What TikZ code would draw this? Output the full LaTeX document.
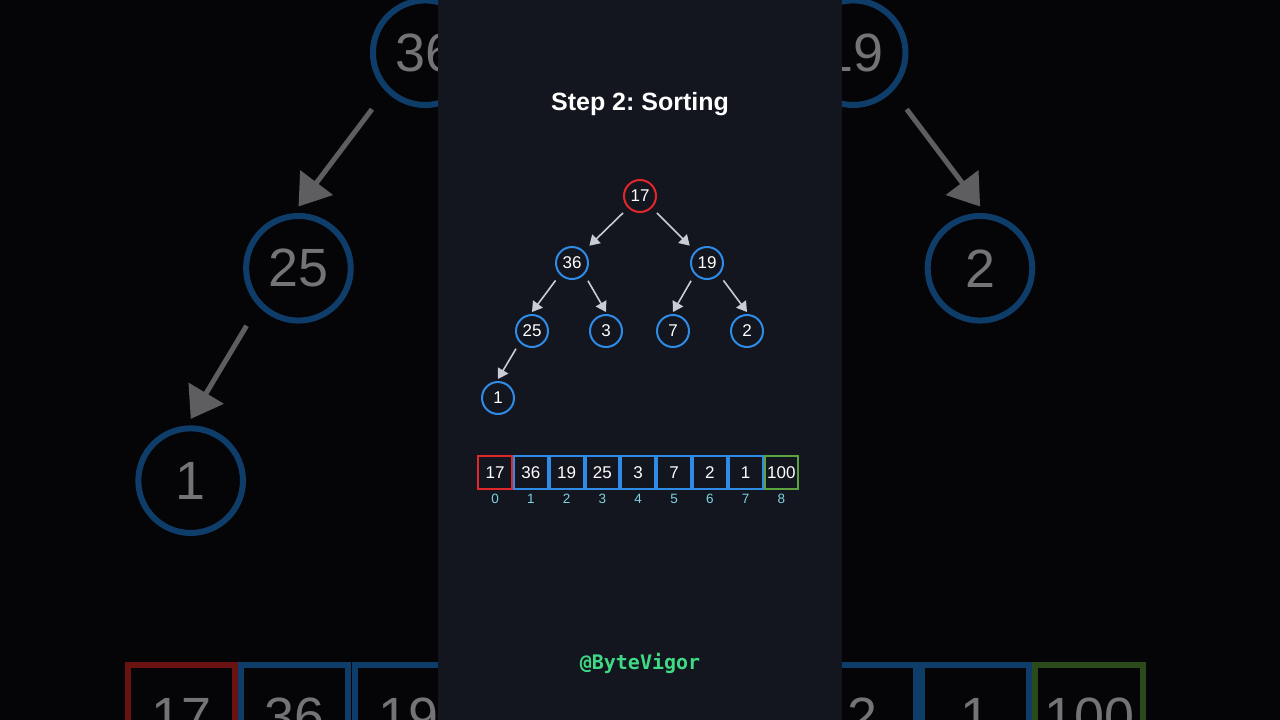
\documentclass[tikz,border=0pt]{standalone}
\usepackage{fontspec}
\setmainfont{Liberation Sans}
\newfontfamily\monofnt{DejaVu Sans Mono}
\usetikzlibrary{arrows.meta,calc}
\frenchspacing
\definecolor{outerbg}{HTML}{050508}
\definecolor{panel}{HTML}{13151F}
\definecolor{cblue}{HTML}{2E8CE6}
\definecolor{cred}{HTML}{E0282A}
\definecolor{cgreen}{HTML}{5BA33F}
\definecolor{agray}{HTML}{C9CCD3}
\definecolor{icyan}{HTML}{7DD3E0}
\definecolor{wmgreen}{HTML}{3DDC84}
\definecolor{dblue}{HTML}{0F3D69}
\definecolor{dred}{HTML}{6A1212}
\definecolor{dgreen}{HTML}{2A4A1C}
\definecolor{dgray}{HTML}{5E5E60}
\definecolor{dtext}{HTML}{747476}

\newcommand\heapcontent{%
  \node[hc,rednode] (n17) at (640,196) {17};
  \node[hc] (n36) at (572,263) {36};
  \node[hc] (n19) at (707,263) {19};
  \node[hc] (n25) at (532,331) {25};
  \node[hc] (n3)  at (606,331) {3};
  \node[hc] (n7)  at (673,331) {7};
  \node[hc] (n2)  at (747,331) {2};
  \node[hc] (n1)  at (498,398) {1};
  \draw[harrow,topedge] (n17.-135) -- (n36.45);
  \draw[harrow,topedge] (n17.-45) -- (n19.135);
  \draw[harrow] (n36.-135) -- (n25.north);
  \draw[harrow] (n36.-45) -- (n3.north);
  \draw[harrow] (n19.-135) -- (n7.north);
  \draw[harrow] (n19.-45) -- (n2.north);
  \draw[harrow] (n25.-135) -- (n1.north);
  \node[cellbox,cellred]   (c0) at (495.0,472.5) {17};
  \node[cellbox,cellblue]  (c1) at (530.8,472.5) {36};
  \node[cellbox,cellblue]  (c2) at (566.6,472.5) {19};
  \node[cellbox,cellblue]  (c3) at (602.4,472.5) {25};
  \node[cellbox,cellblue]  (c4) at (638.2,472.5) {3};
  \node[cellbox,cellblue]  (c5) at (674.0,472.5) {7};
  \node[cellbox,cellblue]  (c6) at (709.8,472.5) {2};
  \node[cellbox,cellblue]  (c7) at (745.6,472.5) {1};
  \node[cellbox,cellgreen] (c8) at (781.4,472.5) {100};
  \foreach \k in {0,...,8} {\node[idx] (i\k) at ($(c\k)+(0,26.5)$) {\k};}
}

\begin{document}
\begin{tikzpicture}[x=1pt,y=-1pt]
\useasboundingbox (0,0) rectangle (1280,720);
\clip (0,0) rectangle (1280,720);
\fill[outerbg] (0,0) rectangle (1280,720);
% dimmed enlarged background copy
\begin{scope}[shift={(-1388,-781)},scale=3.17,transform shape,name prefix=bg-]
  \tikzset{
    hc/.style={circle,draw=dblue,line width=6pt,fill=outerbg,text=dtext,minimum size=33pt,inner sep=0pt,outer sep=3pt,font=\fontsize{17}{17}\selectfont},
    rednode/.style={draw=dred},
    harrow/.style={draw=dgray,line width=5pt,shorten <=16pt,-{Triangle[length=30pt,width=40pt]}},
    topedge/.style={shorten >=17pt},
    cellbox/.style={rectangle,line width=6pt,fill=outerbg,text=dtext,minimum width=33.8pt,minimum height=33pt,inner sep=0pt,font=\fontsize{17}{17}\selectfont},
    cellred/.style={draw=dred},
    cellblue/.style={draw=dblue},
    cellgreen/.style={draw=dgreen},
    idx/.style={text=dtext,font=\fontsize{13.5}{13.5}\selectfont}
  }
  \heapcontent
\end{scope}
% central panel
\fill[panel] (438,0) rectangle (842,720);
\begin{scope}
  \tikzset{
    hc/.style={circle,draw=cblue,line width=2pt,fill=panel,text=white,minimum size=32pt,inner sep=0pt,outer sep=3pt,font=\fontsize{17}{17}\selectfont},
    rednode/.style={draw=cred},
    harrow/.style={draw=agray,line width=1.6pt,shorten <=5pt,-{Triangle[length=10pt,width=12pt]}},
    topedge/.style={shorten >=5.5pt},
    cellbox/.style={rectangle,line width=2pt,fill=panel,text=white,minimum width=33.8pt,minimum height=33pt,inner sep=0pt,font=\fontsize{17}{17}\selectfont},
    cellred/.style={draw=cred},
    cellblue/.style={draw=cblue},
    cellgreen/.style={draw=cgreen},
    idx/.style={text=icyan,font=\fontsize{13.5}{13.5}\selectfont}
  }
  \heapcontent
\end{scope}
\node[text=white,font=\bfseries\fontsize{25}{30}\selectfont] (title) at (640,104) {Step 2: Sorting};
\node[text=wmgreen,font=\monofnt\bfseries\fontsize{20}{24}\selectfont] (wm) at (640,663) {@ByteVigor};
\end{tikzpicture}
\end{document}
